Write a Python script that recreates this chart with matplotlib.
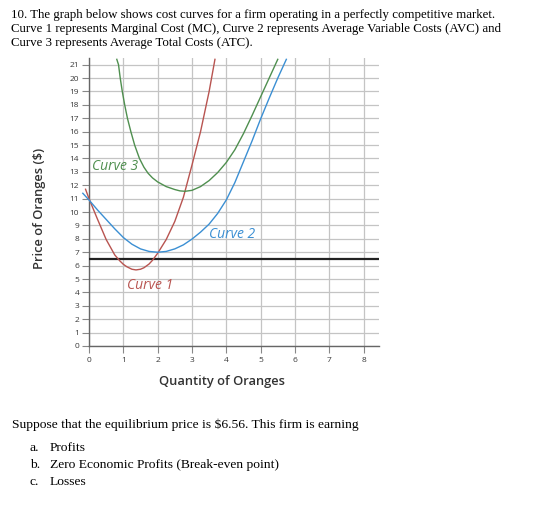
import matplotlib
matplotlib.use("Agg")
import matplotlib.pyplot as plt

# Curve 1: marginal cost (MC)
mc_q = [-0.1, 0.0, 0.25, 0.5, 0.75, 0.9, 1.0, 1.1, 1.25, 1.37, 1.5, 1.6, 1.75, 1.85, 2.0,
        2.25, 2.5, 2.75, 3.0, 3.25, 3.5, 3.67]
mc_p = [11.7, 11.0, 9.45, 7.95, 6.8, 6.35, 6.1, 5.92, 5.73, 5.68, 5.73, 5.84, 6.12, 6.4, 6.92,
        7.95, 9.3, 11.1, 13.5, 16.0, 19.0, 21.4]

# Curve 2: average variable cost (AVC)
avc_q = [-0.18, 0.0, 0.25, 0.5, 0.75, 1.0, 1.25, 1.5, 1.75, 2.0, 2.25, 2.5, 2.75,
         3.0, 3.25, 3.5, 3.75, 4.0, 4.25, 4.5, 4.75, 5.0, 5.25, 5.5, 5.75]
avc_p = [11.4, 10.9, 10.15, 9.45, 8.75, 8.1, 7.6, 7.25, 7.06, 7.0, 7.06, 7.25, 7.55,
         7.98, 8.5, 9.1, 9.9, 10.9, 12.2, 13.75, 15.3, 16.95, 18.5, 20.0, 21.4]

# Curve 3: average total cost (ATC)
atc_q = [0.81, 0.86, 0.91, 0.97, 1.04, 1.12, 1.22, 1.33, 1.47, 1.6, 1.72, 1.85, 2.0,
         2.25, 2.5, 2.65, 2.8, 3.0, 3.25, 3.5, 3.75, 4.0, 4.25, 4.5, 4.75, 5.0, 5.25, 5.5]
atc_p = [21.4, 21.0, 20.0, 19.0, 18.0, 17.0, 16.0, 15.0, 14.0, 13.35, 12.9, 12.55, 12.25,
         11.9, 11.68, 11.58, 11.55, 11.62, 11.9, 12.35, 12.95, 13.7, 14.65, 15.85, 17.2, 18.6, 20.0, 21.4]

price_line = 6.5
x_ticks = list(range(0, 9))
y_ticks = list(range(0, 22))

title_lines = [
    "10. The graph below shows cost curves for a firm operating in a perfectly competitive market.",
    "Curve 1 represents Marginal Cost (MC), Curve 2 represents Average Variable Costs (AVC) and",
    "Curve 3 represents Average Total Costs (ATC).",
]
question = "Suppose that the equilibrium price is $6.56. This firm is earning"
options = [("a.", "Profits"), ("b.", "Zero Economic Profits (Break-even point)"), ("c.", "Losses")]

RED = "#b85450"
BLUE = "#3b8fd3"
GREEN = "#4f8f4f"
SANS = ["Open Sans", "DejaVu Sans"]
SERIF = ["Liberation Serif", "DejaVu Serif"]

fig = plt.figure(figsize=(5.5, 5.08), dpi=100)
ax = fig.add_axes([89 / 550, 1 - 346 / 508, 290 / 550, 288 / 508])

ax.set_xlim(0, 8.45)
ax.set_ylim(0, 21.5)
ax.set_xticks(x_ticks)
ax.set_yticks(y_ticks)
ax.grid(True, color="#c4c4c4", linewidth=0.9)
ax.set_axisbelow(True)

for side in ["top", "right"]:
    ax.spines[side].set_visible(False)
for side in ["left", "bottom"]:
    ax.spines[side].set_color("#666666")
    ax.spines[side].set_linewidth(1.0)

ax.tick_params(axis="both", colors="#888888", length=5, width=0.8, labelsize=6,
               labelcolor="#3a3a3a")
ax.tick_params(axis="x", pad=3)
ax.tick_params(axis="y", pad=2)
for lab in ax.get_xticklabels() + ax.get_yticklabels():
    lab.set_family(SANS)

ax.axhline(price_line, color="#222222", linewidth=1.6, zorder=3)

ax.plot(mc_q, mc_p, color=RED, linewidth=1.0, clip_on=False, zorder=4)
ax.plot(avc_q, avc_p, color=BLUE, linewidth=1.0, clip_on=False, zorder=4)
ax.plot(atc_q, atc_p, color=GREEN, linewidth=1.0, clip_on=False, zorder=4)

ax.text(0.1, 13.4, "Curve 3", color=GREEN, fontsize=10, style="italic", family=SANS,
        va="center", ha="left")
ax.text(3.5, 8.3, "Curve 2", color=BLUE, fontsize=10, style="italic", family=SANS,
        va="center", ha="left")
ax.text(1.1, 4.5, "Curve 1", color=RED, fontsize=10, style="italic", family=SANS,
        va="center", ha="left")

fig.text(40 / 550, 1 - 208 / 508, "Price of Oranges ($)", rotation=90, fontsize=9.3,
         family=SANS, color="#333333", ha="center", va="center", fontweight="semibold")
fig.text(222 / 550, 1 - 381 / 508, "Quantity of Oranges", fontsize=9.3,
         family=SANS, color="#333333", ha="center", va="center", fontweight="semibold")

for i, line in enumerate(title_lines):
    fig.text(11 / 550, 1 - (15 + 14 * i) / 508, line, fontsize=9.3, family=SERIF,
             color="black", ha="left", va="center")

fig.text(12 / 550, 1 - 425 / 508, question, fontsize=9.7, family=SERIF,
         color="black", ha="left", va="center")
for i, (letter, text) in enumerate(options):
    y = 1 - (448 + 17 * i) / 508
    fig.text(30 / 550, y, letter, fontsize=9.7, family=SERIF, ha="left", va="center")
    fig.text(50 / 550, y, text, fontsize=9.7, family=SERIF, ha="left", va="center")

fig.savefig("out.png", dpi=100)
